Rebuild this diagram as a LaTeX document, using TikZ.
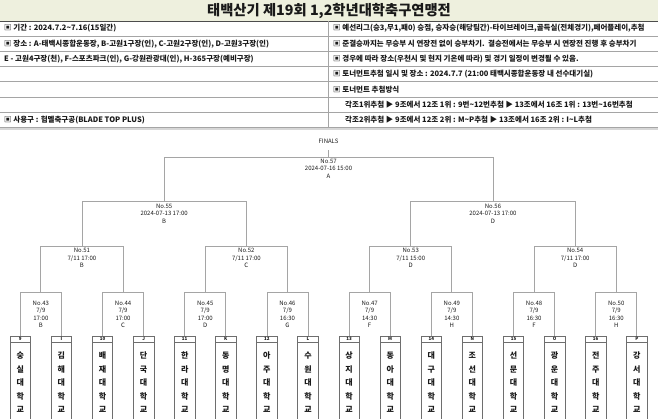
\documentclass[tikz,border=0pt]{standalone}
\usepackage{fontspec}
\setmainfont{Noto Sans CJK KR}
\definecolor{titlebg}{RGB}{238,240,222}
\definecolor{linegray}{RGB}{165,165,165}
\definecolor{boxgray}{RGB}{110,110,110}
\definecolor{txt}{RGB}{25,25,25}
\definecolor{bandgray}{RGB}{215,215,215}
\begin{document}
\begin{tikzpicture}[x=1pt,y=-1pt,
  conn/.style={draw=linegray,line width=0.8pt},
  rowline/.style={draw=linegray,line width=0.6pt},
  hdr/.style={anchor=west,inner sep=0pt,text=txt,font=\fontsize{7.5}{8.5}\selectfont\bfseries},
  mlab/.style={anchor=north,inner sep=0pt,align=center,text=txt,font=\fontsize{6}{7.6}\selectfont},
  numcell/.style={draw=boxgray,line width=0.6pt,minimum width=20.5pt,minimum height=6pt,inner sep=0pt,text=txt,font=\fontsize{4.5}{5}\selectfont\bfseries},
  namebox/.style={draw=boxgray,line width=0.6pt,minimum width=20.5pt,minimum height=80pt,inner sep=0pt,anchor=north,align=center,text=txt,font=\fontsize{8}{13.5}\selectfont\bfseries}]
\useasboundingbox (0,0) rectangle (658,419);
% ---------- header ----------
\fill[titlebg] (0,0) rectangle (658,21);
\node[inner sep=0pt,text=txt,font=\fontsize{14.3}{16}\selectfont\bfseries] (title) at (329,11) {태백산기 제19회 1,2학년대학축구연맹전};
\foreach \yy in {36.2,51.4,66.6,81.8,97,112.2}{\draw[rowline] (0,\yy) -- (658,\yy);}
\draw[draw=black!70,line width=0.8pt] (0,21) -- (658,21);
\fill[bandgray] (0,127.2) rectangle (658,130);
\draw[rowline] (0,127.2) -- (658,127.2);
\draw[rowline] (328.5,21) -- (328.5,127.2);
\node[hdr] (l1) at (4,28.6) {▣ 기간 : 2024.7.2\textasciitilde 7.16(15일간)};
\node[hdr] (l2) at (4,43.8) {▣ 장소 : A-태백시종합운동장, B-고원1구장(인), C-고원2구장(인), D-고원3구장(인)};
\node[hdr] (l3) at (4,59) {E - 고원4구장(천), F-스포츠파크(인), G-강원관광대(인), H-365구장(예비구장)};
\node[hdr] (l7) at (4,119.8) {▣ 사용구 : 험멜축구공(BLADE TOP PLUS)};
\node[hdr] (r1) at (333,28.6) {▣ 예선리그(승3,무1,패0) 승점, 승자승(해당팀간)-타이브레이크,골득실(전체경기),페어플레이,추첨};
\node[hdr] (r2) at (333,43.8) {▣ 준결승까지는 무승부 시 연장전 없이 승부차기.~~결승전에서는 무승부 시 연장전 진행 후 승부차기};
\node[hdr] (r3) at (333,59) {▣ 경우에 따라 장소(우천시 및 현지 기온에 따라) 및 경기 일정이 변경될 수 있음.};
\node[hdr] (r4) at (333,74.2) {▣ 토너먼트추첨 일시 및 장소 : 2024.7.7 (21:00 태백시종합운동장 내 선수대기실)};
\node[hdr] (r5) at (333,89.4) {▣ 토너먼트 추첨방식};
\node[hdr] (r6) at (345,104.6) {각조1위추첨 ▶ 9조에서 12조 1위 : 9번\textasciitilde 12번추첨 ▶ 13조에서 16조 1위 : 13번\textasciitilde 16번추첨};
\node[hdr] (r7) at (345,119.8) {각조2위추첨 ▶ 9조에서 12조 2위 : M\textasciitilde P추첨 ▶ 13조에서 16조 2위 : I\textasciitilde L추첨};
% ---------- teams ----------
\foreach \k/\lab/\nm in {0/9/숭\\실,1/I/김\\해,2/10/배\\재,3/J/단\\국,4/11/한\\라,5/K/동\\명,6/12/아\\주,7/L/수\\원,8/13/상\\지,9/M/동\\아,10/14/대\\구,11/N/조\\선,12/15/선\\문,13/O/광\\운,14/16/전\\주,15/P/강\\서}{
  \node[numcell] (t\k) at ({20.3+41.1*\k},339) {\lab};
  \node[namebox] (n\k) at (t\k.south) {\nm\\대\\학\\교};
}
% ---------- match points ----------
\coordinate (m43) at (40.85,292);
\coordinate (m44) at (123.05,292);
\coordinate (m45) at (205.25,292);
\coordinate (m46) at (287.45,292);
\coordinate (m47) at (369.65,292);
\coordinate (m49) at (451.85,292);
\coordinate (m48) at (534.05,292);
\coordinate (m50) at (616.25,292);
\coordinate (m51) at (81.95,246);
\coordinate (m52) at (246.35,246);
\coordinate (m53) at (410.75,246);
\coordinate (m54) at (575.15,246);
\coordinate (m55) at (164.15,201);
\coordinate (m56) at (492.95,201);
\coordinate (m57) at (328.55,157);
\coordinate (ftop) at (328.55,150);
% ---------- connectors ----------
\draw[conn] (m57) -- (ftop);
\draw[conn] (m57) -| (m55);
\draw[conn] (m57) -| (m56);
\draw[conn] (m55) -| (m51);
\draw[conn] (m55) -| (m52);
\draw[conn] (m56) -| (m53);
\draw[conn] (m56) -| (m54);
\draw[conn] (m51) -| (m43);
\draw[conn] (m51) -| (m44);
\draw[conn] (m52) -| (m45);
\draw[conn] (m52) -| (m46);
\draw[conn] (m53) -| (m47);
\draw[conn] (m53) -| (m49);
\draw[conn] (m54) -| (m48);
\draw[conn] (m54) -| (m50);
\draw[conn] (m43) -| (t0.north);
\draw[conn] (m43) -| (t1.north);
\draw[conn] (m44) -| (t2.north);
\draw[conn] (m44) -| (t3.north);
\draw[conn] (m45) -| (t4.north);
\draw[conn] (m45) -| (t5.north);
\draw[conn] (m46) -| (t6.north);
\draw[conn] (m46) -| (t7.north);
\draw[conn] (m47) -| (t8.north);
\draw[conn] (m47) -| (t9.north);
\draw[conn] (m49) -| (t10.north);
\draw[conn] (m49) -| (t11.north);
\draw[conn] (m48) -| (t12.north);
\draw[conn] (m48) -| (t13.north);
\draw[conn] (m50) -| (t14.north);
\draw[conn] (m50) -| (t15.north);
% ---------- labels ----------
\node[mlab,anchor=south] (finals) at ([yshift=6pt]ftop) {FINALS};
\node[mlab] (l57) at ([yshift=-1.5pt]m57) {No.57\\2024-07-16 15:00\\A};
\node[mlab] (l55) at ([yshift=-2.5pt]m55) {No.55\\2024-07-13 17:00\\B};
\node[mlab] (l56) at ([yshift=-2.5pt]m56) {No.56\\2024-07-13 17:00\\D};
\node[mlab] (l51) at ([yshift=-2pt]m51) {No.51\\7/11 17:00\\B};
\node[mlab] (l52) at ([yshift=-2pt]m52) {No.52\\7/11 17:00\\C};
\node[mlab] (l53) at ([yshift=-2pt]m53) {No.53\\7/11 15:00\\D};
\node[mlab] (l54) at ([yshift=-2pt]m54) {No.54\\7/11 17:00\\D};
\node[mlab] (l43) at ([yshift=-8.5pt]m43) {No.43\\7/9\\17:00\\B};
\node[mlab] (l44) at ([yshift=-8.5pt]m44) {No.44\\7/9\\17:00\\C};
\node[mlab] (l45) at ([yshift=-8.5pt]m45) {No.45\\7/9\\17:00\\D};
\node[mlab] (l46) at ([yshift=-8.5pt]m46) {No.46\\7/9\\16:30\\G};
\node[mlab] (l47) at ([yshift=-8.5pt]m47) {No.47\\7/9\\14:30\\F};
\node[mlab] (l49) at ([yshift=-8.5pt]m49) {No.49\\7/9\\14:30\\H};
\node[mlab] (l48) at ([yshift=-8.5pt]m48) {No.48\\7/9\\16:30\\F};
\node[mlab] (l50) at ([yshift=-8.5pt]m50) {No.50\\7/9\\16:30\\H};
\end{tikzpicture}
\end{document}
